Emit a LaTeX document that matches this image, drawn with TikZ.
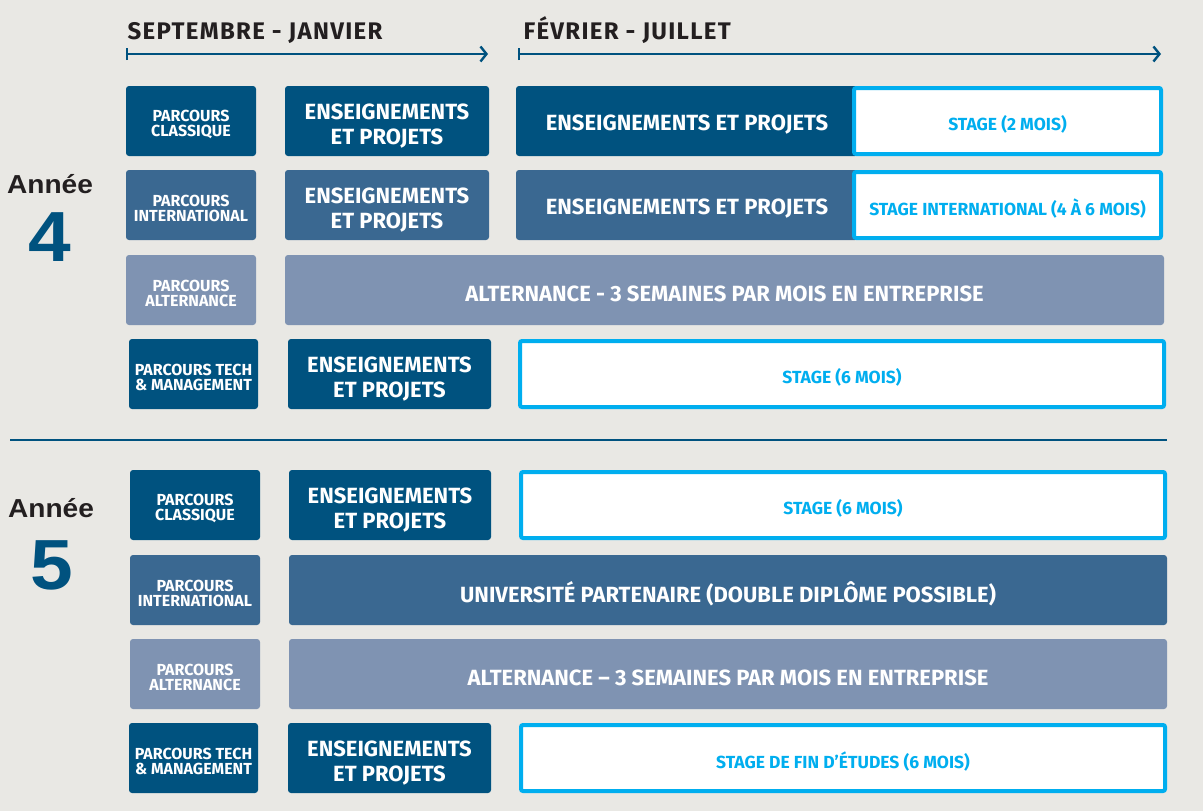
\documentclass[tikz,border=0pt]{standalone}
\usepackage{fontspec}
\setmainfont{Fira Sans}
\newfontfamily\arialfont{Liberation Sans}[FakeStretch=1.08]
\usetikzlibrary{arrows.meta}
\definecolor{bg}{HTML}{E9E8E4}
\definecolor{dblue}{HTML}{00527F}
\definecolor{mblue}{HTML}{3A6891}
\definecolor{lblue}{HTML}{7F93B2}
\definecolor{cyanb}{HTML}{00AEEF}
\definecolor{ink}{HTML}{231F20}
% #1 shape style, #2 name, #3-#6 corners, #7 text style, #8 text
\newcommand\rbox[8]{%
  \pgfmathsetmacro\rbcx{(#3+#5)/2}\pgfmathsetmacro\rbcy{(#4+#6)/2}%
  \pgfmathsetmacro\rbw{#5-#3}\pgfmathsetmacro\rbh{#6-#4}%
  \node[#1, minimum width=\rbw pt, minimum height=\rbh pt] (#2) at (\rbcx,\rbcy) {};
  \node[#7] (#2t) at (#2.center) {#8};}
\begin{document}
\begin{tikzpicture}[x=1pt,y=-1pt,
  box/.style={rounded corners=3pt, inner sep=0pt},
  stg/.style={draw=cyanb, line width=4pt, fill=white, rounded corners=2pt, inner sep=0pt},
  labt/.style={inner sep=0pt, align=center, text=white, yshift=-3.5pt, font=\fontsize{16}{15.5}\selectfont\bfseries},
  bigt/.style={inner sep=0pt, align=center, text=white, yshift=-5pt, font=\fontsize{22}{25}\selectfont\bfseries},
  widet/.style={inner sep=0pt, align=center, text=white, yshift=-3.5pt, font=\fontsize{22}{25}\selectfont\bfseries},
  stgt/.style={inner sep=0pt, align=center, text=cyanb, yshift=-3.5pt, font=\fontsize{17.5}{17.5}\selectfont\bfseries},
  head/.style={anchor=base west, text=ink, font=\fontsize{24}{24}\selectfont\bfseries\addfontfeatures{LetterSpace=5.5}},
  annee/.style={anchor=base, text=ink, font=\arialfont\bfseries\fontsize{26}{26}\selectfont},
  num/.style={anchor=base, text=dblue, font=\arialfont\bfseries\fontsize{71}{71}\selectfont},
  timeline/.style={draw=dblue, line width=2.4pt, {Bar[width=12pt]}-{Straight Barb[length=6pt,width=15pt]}},
  sep/.style={draw=dblue, line width=1.2pt}]
\fill[bg] (0,0) rectangle (1203,811);
\useasboundingbox (0,0) rectangle (1203,811);
% header
\node[head] (h1) at (124,39) {SEPTEMBRE - JANVIER};
\node[head] (h2) at (520,39) {FÉVRIER - JUILLET};
\coordinate (t1s) at (126,54); \coordinate (t1e) at (488,54);
\coordinate (t2s) at (518,54); \coordinate (t2e) at (1161,54);
\draw[timeline] (t1s) -- (t1e);
\draw[timeline] (t2s) -- (t2e);
% year labels
\node[annee] (an4) at (50,193) {Année};
\node[num] (n4) at (50,261) {4};
\node[annee] (an5) at (51,517) {Année};
\node[num] (n5) at (52,589) {5};
% separator
\coordinate (s1) at (10,440); \coordinate (s2) at (1167,440);
\draw[sep] (s1) -- (s2);
% Year 4
\rbox{box,fill=dblue}{l41}{126}{86}{256}{156}{labt}{PARCOURS\\CLASSIQUE}
\rbox{box,fill=dblue}{e41}{285}{86}{489}{156}{bigt}{ENSEIGNEMENTS\\ET PROJETS}
\rbox{box,fill=dblue}{w41}{516}{86}{858}{156}{widet}{ENSEIGNEMENTS ET PROJETS}
\rbox{stg}{s41}{854}{88}{1161}{154}{stgt}{STAGE (2 MOIS)}
\rbox{box,fill=mblue}{l42}{126}{170}{256}{240}{labt}{PARCOURS\\INTERNATIONAL}
\rbox{box,fill=mblue}{e42}{285}{170}{489}{240}{bigt}{ENSEIGNEMENTS\\ET PROJETS}
\rbox{box,fill=mblue}{w42}{516}{170}{858}{240}{widet}{ENSEIGNEMENTS ET PROJETS}
\rbox{stg}{s42}{854}{172}{1161}{238}{stgt}{STAGE INTERNATIONAL (4 À 6 MOIS)}
\rbox{box,fill=lblue}{l43}{126}{255}{256}{325}{labt}{PARCOURS\\ALTERNANCE}
\rbox{box,fill=lblue}{w43}{285}{255}{1164}{325}{widet}{ALTERNANCE - 3 SEMAINES PAR MOIS EN ENTREPRISE}
\rbox{box,fill=dblue}{l44}{129}{339}{258}{409}{labt}{PARCOURS TECH\\\& MANAGEMENT}
\rbox{box,fill=dblue}{e44}{288}{339}{491}{409}{bigt}{ENSEIGNEMENTS\\ET PROJETS}
\rbox{stg}{s44}{520}{341}{1164}{407}{stgt}{STAGE (6 MOIS)}
% Year 5
\rbox{box,fill=dblue}{l51}{130}{470}{260}{540}{labt}{PARCOURS\\CLASSIQUE}
\rbox{box,fill=dblue}{e51}{289}{470}{491}{540}{bigt}{ENSEIGNEMENTS\\ET PROJETS}
\rbox{stg}{s51}{521}{472}{1165}{538}{stgt}{STAGE (6 MOIS)}
\rbox{box,fill=mblue}{l52}{130}{555}{260}{625}{labt}{PARCOURS\\INTERNATIONAL}
\rbox{box,fill=mblue}{w52}{289}{555}{1167}{625}{widet}{UNIVERSITÉ PARTENAIRE (DOUBLE DIPLÔME POSSIBLE)}
\rbox{box,fill=lblue}{l53}{130}{639}{260}{709}{labt}{PARCOURS\\ALTERNANCE}
\rbox{box,fill=lblue}{w53}{289}{639}{1167}{709}{widet}{ALTERNANCE – 3 SEMAINES PAR MOIS EN ENTREPRISE}
\rbox{box,fill=dblue}{l54}{129}{723}{258}{793}{labt}{PARCOURS TECH\\\& MANAGEMENT}
\rbox{box,fill=dblue}{e54}{288}{723}{491}{793}{bigt}{ENSEIGNEMENTS\\ET PROJETS}
\rbox{stg}{s54}{521}{725}{1165}{791}{stgt}{STAGE DE FIN D'ÉTUDES (6 MOIS)}
\end{tikzpicture}
\end{document}
